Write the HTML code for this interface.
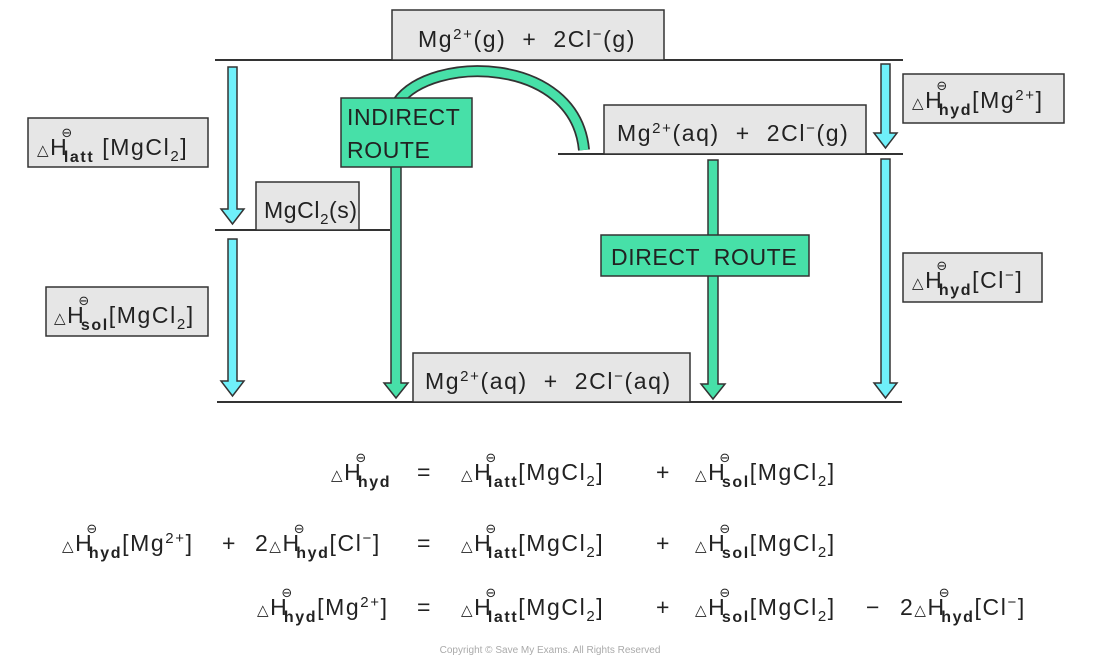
<!DOCTYPE html>
<html><head><meta charset="utf-8"><style>
body{margin:0;background:#fff}
svg{display:block;font-family:"Liberation Sans","DejaVu Sans",sans-serif;fill:#222}
.b{fill:#e6e6e6;stroke:#333;stroke-width:1.5}
.g{fill:#47e0a8;stroke:#333;stroke-width:1.5}
.c{fill:#6ff0fa;stroke:#333;stroke-width:1.5}
.ar{fill:#47e0a8;stroke:#333;stroke-width:1.5}
.l{stroke:#333;stroke-width:2}
text{font-size:23px;letter-spacing:1.6px;white-space:pre}
.t{letter-spacing:0.6px}
</style></head><body>
<svg width="1100" height="665" viewBox="0 0 1100 665">
<line class="l" x1="215" y1="60" x2="903" y2="60"/>
<line class="l" x1="558" y1="154" x2="903" y2="154"/>
<line class="l" x1="215" y1="230" x2="390" y2="230"/>
<line class="l" x1="217" y1="402" x2="902" y2="402"/>

<path d="M398,102 C430,55 575,55 584,150" fill="none" stroke="#333" stroke-width="12"/>
<path d="M398,102 C430,55 575,55 584,150" fill="none" stroke="#47e0a8" stroke-width="8.5"/>

<path class="c" d="M228,67h9v142h7l-11.5,15l-11.5,-15h7z"/>
<path class="c" d="M228,239h9v142h7l-11.5,15l-11.5,-15h7z"/>
<path class="c" d="M881,64h9v69h7l-11.5,15l-11.5,-15h7z"/>
<path class="c" d="M881,159h9v224h7l-11.5,15l-11.5,-15h7z"/>
<path class="ar" d="M391,165h10v218h7l-12,15l-12,-15h7z"/>
<path class="ar" d="M708,160h10v224h7l-12,15l-12,-15h7z"/>

<rect class="b" x="392" y="10" width="272" height="50"/>
<text x="418" y="47">Mg<tspan dy="-8" font-size="15">2+</tspan><tspan dy="8">(g)  +  2Cl</tspan><tspan dy="-8" font-size="15">−</tspan><tspan dy="8">(g)</tspan></text>
<rect class="b" x="604" y="105" width="262" height="49"/>
<text x="617" y="141">Mg<tspan dy="-8" font-size="15">2+</tspan><tspan dy="8">(aq)  +  2Cl</tspan><tspan dy="-8" font-size="15">−</tspan><tspan dy="8">(g)</tspan></text>
<rect class="b" x="256" y="182" width="103" height="48"/>
<text class="t" x="264" y="218">MgCl<tspan dy="6" font-size="15">2</tspan><tspan dy="-6">(s)</tspan></text>
<rect class="b" x="413" y="353" width="277" height="49"/>
<text x="425" y="389">Mg<tspan dy="-8" font-size="15">2+</tspan><tspan dy="8">(aq)  +  2Cl</tspan><tspan dy="-8" font-size="15">−</tspan><tspan dy="8">(aq)</tspan></text>

<rect class="g" x="341" y="98" width="131" height="69"/>
<text class="t" x="347" y="125">INDIRECT</text>
<text class="t" x="347" y="158">ROUTE</text>
<rect class="g" x="601" y="235" width="208" height="41"/>
<text class="t" x="611" y="265">DIRECT  ROUTE</text>

<rect class="b" x="28" y="118" width="180" height="49"/>
<text x="37" y="155"><tspan font-size="15">△</tspan>H<tspan font-size="13" dx="-7" dy="-18">⊖</tspan><tspan font-size="16" font-weight="bold" dx="-10" dy="25">latt</tspan><tspan dy="-7"> [MgCl</tspan><tspan font-size="15" dy="6">2</tspan><tspan dy="-6">]</tspan></text>
<rect class="b" x="46" y="287" width="162" height="49"/>
<text x="54" y="323"><tspan font-size="15">△</tspan>H<tspan font-size="13" dx="-7" dy="-18">⊖</tspan><tspan font-size="16" font-weight="bold" dx="-10" dy="25">sol</tspan><tspan dy="-7">[MgCl</tspan><tspan font-size="15" dy="6">2</tspan><tspan dy="-6">]</tspan></text>
<rect class="b" x="903" y="74" width="161" height="49"/>
<text x="912" y="108"><tspan font-size="15">△</tspan>H<tspan font-size="13" dx="-7" dy="-18">⊖</tspan><tspan font-size="16" font-weight="bold" dx="-10" dy="25">hyd</tspan><tspan dy="-7">[Mg</tspan><tspan font-size="15" dy="-8">2+</tspan><tspan dy="8">]</tspan></text>
<rect class="b" x="903" y="253" width="139" height="49"/>
<text x="912" y="288"><tspan font-size="15">△</tspan>H<tspan font-size="13" dx="-7" dy="-18">⊖</tspan><tspan font-size="16" font-weight="bold" dx="-10" dy="25">hyd</tspan><tspan dy="-7">[Cl</tspan><tspan font-size="15" dy="-8">−</tspan><tspan dy="8">]</tspan></text>

<text x="331" y="480"><tspan font-size="15">△</tspan>H<tspan font-size="13" dx="-7" dy="-18">⊖</tspan><tspan font-size="16" font-weight="bold" dx="-10" dy="25">hyd</tspan></text>
<text x="417" y="480">=</text>
<text x="461" y="480"><tspan font-size="15">△</tspan>H<tspan font-size="13" dx="-7" dy="-18">⊖</tspan><tspan font-size="16" font-weight="bold" dx="-10" dy="25">latt</tspan><tspan dy="-7">[MgCl</tspan><tspan font-size="15" dy="6">2</tspan><tspan dy="-6">]</tspan></text>
<text x="656" y="480">+</text>
<text x="695" y="480"><tspan font-size="15">△</tspan>H<tspan font-size="13" dx="-7" dy="-18">⊖</tspan><tspan font-size="16" font-weight="bold" dx="-10" dy="25">sol</tspan><tspan dy="-7">[MgCl</tspan><tspan font-size="15" dy="6">2</tspan><tspan dy="-6">]</tspan></text>

<text x="62" y="551"><tspan font-size="15">△</tspan>H<tspan font-size="13" dx="-7" dy="-18">⊖</tspan><tspan font-size="16" font-weight="bold" dx="-10" dy="25">hyd</tspan><tspan dy="-7">[Mg</tspan><tspan font-size="15" dy="-8">2+</tspan><tspan dy="8">]</tspan></text>
<text x="222" y="551">+</text>
<text x="255" y="551">2<tspan font-size="15">△</tspan>H<tspan font-size="13" dx="-7" dy="-18">⊖</tspan><tspan font-size="16" font-weight="bold" dx="-10" dy="25">hyd</tspan><tspan dy="-7">[Cl</tspan><tspan font-size="15" dy="-8">−</tspan><tspan dy="8">]</tspan></text>
<text x="417" y="551">=</text>
<text x="461" y="551"><tspan font-size="15">△</tspan>H<tspan font-size="13" dx="-7" dy="-18">⊖</tspan><tspan font-size="16" font-weight="bold" dx="-10" dy="25">latt</tspan><tspan dy="-7">[MgCl</tspan><tspan font-size="15" dy="6">2</tspan><tspan dy="-6">]</tspan></text>
<text x="656" y="551">+</text>
<text x="695" y="551"><tspan font-size="15">△</tspan>H<tspan font-size="13" dx="-7" dy="-18">⊖</tspan><tspan font-size="16" font-weight="bold" dx="-10" dy="25">sol</tspan><tspan dy="-7">[MgCl</tspan><tspan font-size="15" dy="6">2</tspan><tspan dy="-6">]</tspan></text>

<text x="257" y="615"><tspan font-size="15">△</tspan>H<tspan font-size="13" dx="-7" dy="-18">⊖</tspan><tspan font-size="16" font-weight="bold" dx="-10" dy="25">hyd</tspan><tspan dy="-7">[Mg</tspan><tspan font-size="15" dy="-8">2+</tspan><tspan dy="8">]</tspan></text>
<text x="417" y="615">=</text>
<text x="461" y="615"><tspan font-size="15">△</tspan>H<tspan font-size="13" dx="-7" dy="-18">⊖</tspan><tspan font-size="16" font-weight="bold" dx="-10" dy="25">latt</tspan><tspan dy="-7">[MgCl</tspan><tspan font-size="15" dy="6">2</tspan><tspan dy="-6">]</tspan></text>
<text x="656" y="615">+</text>
<text x="695" y="615"><tspan font-size="15">△</tspan>H<tspan font-size="13" dx="-7" dy="-18">⊖</tspan><tspan font-size="16" font-weight="bold" dx="-10" dy="25">sol</tspan><tspan dy="-7">[MgCl</tspan><tspan font-size="15" dy="6">2</tspan><tspan dy="-6">]</tspan></text>
<text x="866" y="615">−</text>
<text x="900" y="615">2<tspan font-size="15">△</tspan>H<tspan font-size="13" dx="-7" dy="-18">⊖</tspan><tspan font-size="16" font-weight="bold" dx="-10" dy="25">hyd</tspan><tspan dy="-7">[Cl</tspan><tspan font-size="15" dy="-8">−</tspan><tspan dy="8">]</tspan></text>

<text x="550" y="653" text-anchor="middle" style="font-size:10px;letter-spacing:0;fill:#aaa">Copyright © Save My Exams. All Rights Reserved</text>
</svg>
</body></html>
